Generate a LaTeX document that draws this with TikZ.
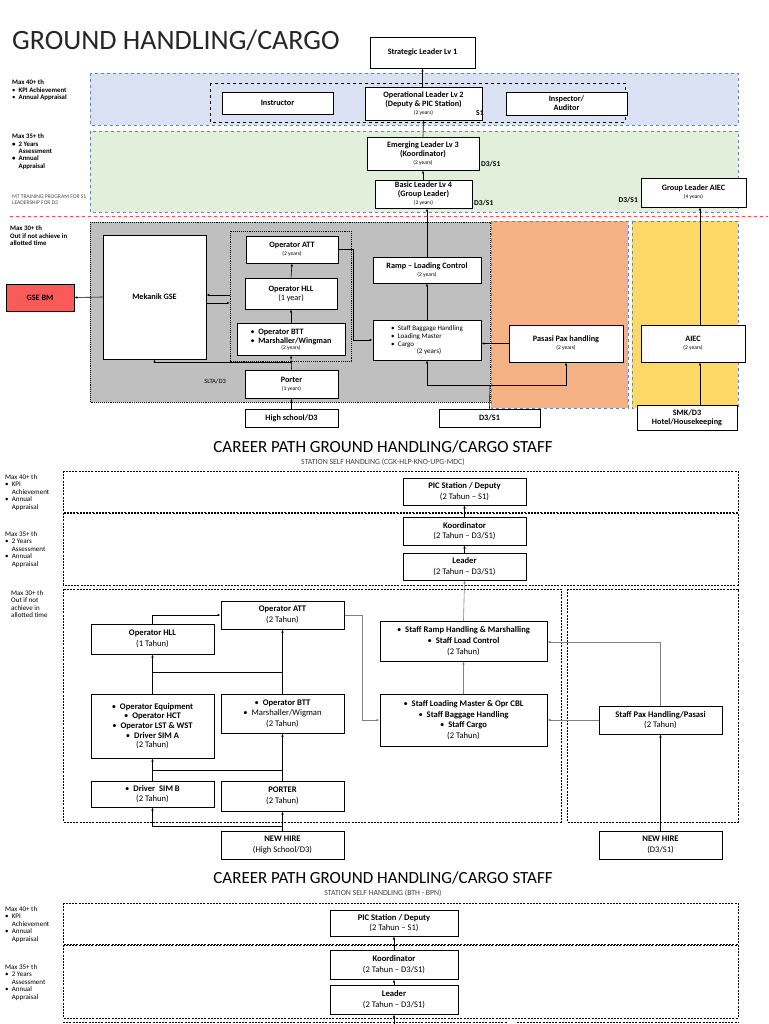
\documentclass[tikz,border=0pt]{standalone}
\usepackage{fontspec}
\setmainfont{Carlito}
\usetikzlibrary{arrows.meta}
\definecolor{bluef}{RGB}{218,225,243}
\definecolor{greenf}{RGB}{226,239,218}
\definecolor{grayf}{RGB}{191,191,191}
\definecolor{orangef}{RGB}{244,177,131}
\definecolor{yellowf}{RGB}{255,217,102}
\definecolor{redf}{RGB}{250,90,90}
\definecolor{dblue}{RGB}{100,130,200}
\begin{document}
\begin{tikzpicture}[x=1pt,y=-1pt,
 box/.style={draw,fill=white,line width=0.9pt,inner sep=1pt,align=center,font=\fontsize{8.2}{9}\selectfont},
 bx/.style={draw,fill=white,line width=1pt,inner sep=1pt,align=center,font=\fontsize{8.6}{10.6}\selectfont},
 lbl/.style={anchor=north west,align=left,inner sep=0,font=\fontsize{6.8}{9.3}\selectfont},
 lbl2/.style={anchor=north west,align=left,inner sep=0,font=\fontsize{7}{9.6}\selectfont},
 ar/.style={-{Latex[length=3pt,width=2.5pt]},line width=0.6pt},
 arg/.style={-{Latex[length=3pt,width=2.5pt]},line width=0.6pt,draw=gray},
 band/.style={draw=dblue,dashed,line width=0.8pt},
 dbox/.style={draw,dashed,line width=0.6pt,dash pattern=on 2pt off 1.2pt},
 ttl/.style={font=\fontsize{17}{19}\selectfont},
 sub/.style={font=\fontsize{7.8}{9}\selectfont,text=black!75},
 sl/.style={anchor=west,inner sep=0,font=\fontsize{7.5}{8}\selectfont\bfseries}]
\useasboundingbox (0,0) rectangle (768,1024);
% ---------- Section 1
\node[anchor=west,inner sep=0,font=\fontsize{28}{30}\selectfont,text=black!85] (t1) at (12,40) {GROUND HANDLING/CARGO};
\fill[bluef] (90,73) rectangle (738,125); \draw[band] (90,73) rectangle (738,125);
\fill[greenf] (90,131) rectangle (738,212); \draw[band] (90,131) rectangle (738,212);
\draw[dashed,line width=0.9pt] (210,83) rectangle (625,122);
\draw[red!70,dashed,line width=1pt] (10,217) -- (768,217);
\fill[grayf] (90,222) rectangle (490,402); \draw[densely dotted,line width=0.9pt] (90,222) rectangle (490,402);
\fill[orangef] (491,221) rectangle (628,408); \draw[band] (491,221) rectangle (628,408);
\fill[yellowf] (632,221) rectangle (738,408); \draw[band] (632,221) rectangle (738,408);
\draw[densely dotted,line width=0.9pt] (230,231) rectangle (351,361);

\node[lbl] (l1) at (12,80) {\textbf{Max 40+ th}\\[-2pt]\textbullet\ \ \textbf{KPI Achievement}\\[-2pt]\textbullet\ \ \textbf{Annual Appraisal}};
\node[lbl,font=\fontsize{6.8}{9.3}\selectfont\bfseries] (l2) at (12,134) {Max 35+ th\\[-2pt]\textbullet\ \ 2 Years\\[-2pt]\phantom{\textbullet\ \ }Assessment\\[-2pt]\textbullet\ \ Annual\\[-2pt]\phantom{\textbullet\ \ }Appraisal};
\node[lbl,font=\fontsize{5.6}{8.5}\selectfont,text=black!70] (l3) at (12,195) {MT TRAINING PROGRAM FOR S1\\[-3pt]LEADERSHIP FOR D3};
\node[lbl,font=\fontsize{6.8}{9.5}\selectfont\bfseries] (l4) at (10,226) {Max 30+ th\\[-2pt]Out if not achieve in\\[-2pt]allotted time};

\node[box,minimum width=105,minimum height=31] (slv1) at (422.5,52.5) {\textbf{Strategic Leader Lv 1}};
\node[box,minimum width=111,minimum height=22] (instr) at (277.5,103) {\textbf{Instructor}};
\node[box,minimum width=117,minimum height=33] (olv2) at (423.5,103.5) {\textbf{Operational Leader Lv 2}\\\textbf{(Deputy \& PIC Station)}\\[-1pt]{\fontsize{5.5}{6}\selectfont(2 years)}};
\node[sl] (s1) at (476,113) {S1};
\node[box,minimum width=121,minimum height=23] (insp) at (566.5,103.5) {\textbf{Inspector/}\\\textbf{Auditor}};
\node[box,minimum width=112,minimum height=33] (elv3) at (423,153.5) {\textbf{Emerging Leader Lv 3}\\\textbf{(Koordinator)}\\[-1pt]{\fontsize{5.5}{6}\selectfont(2 years)}};
\node[sl] (d1) at (481,164) {D3/S1};
\node[box,minimum width=97,minimum height=28] (blv4) at (423.5,194) {\textbf{Basic Leader Lv 4}\\\textbf{(Group Leader)}\\[-1pt]{\fontsize{5.5}{6}\selectfont(2 years)}};
\node[sl] (d2) at (474,203) {D3/S1};
\node[box,minimum width=105,minimum height=29] (gla) at (693.5,192.5) {\textbf{Group Leader AIEC}\\[-1pt]{\fontsize{5.5}{6}\selectfont(4 years)}};
\node[sl,anchor=east] (d3) at (638,200) {D3/S1};

\node[box,minimum width=103,minimum height=124] (mek) at (154.5,297) {\textbf{Mekanik GSE}};
\node[box,fill=redf,minimum width=68,minimum height=27] (gse) at (40,297.5) {\textbf{GSE BM}};
\node[box,minimum width=92,minimum height=27] (att) at (292,249.5) {\textbf{Operator ATT}\\[-1pt]{\fontsize{5.5}{6}\selectfont(2 years)}};
\node[box,minimum width=92,minimum height=31] (hll) at (291,293.5) {\textbf{Operator HLL}\\(1 year)};
\node[box,minimum width=108,minimum height=32] (btt) at (291,339) {\begin{tabular}{@{}l@{}}\textbullet\ \ \textbf{Operator BTT}\\\textbullet\ \ \textbf{Marshaller/Wingman}\end{tabular}\\[-2pt]{\fontsize{5.5}{6}\selectfont(2 years)}};
\node[box,minimum width=93,minimum height=28] (por) at (291.5,384) {\textbf{Porter}\\[-1pt]{\fontsize{5.5}{6}\selectfont(1 years)}};
\node[anchor=east,inner sep=0,font=\fontsize{6.5}{7}\selectfont] (slta) at (226,381) {SLTA/D3};
\node[box,minimum width=93,minimum height=18] (hs) at (291.5,418) {\textbf{High school/D3}};
\node[box,minimum width=108,minimum height=26] (ramp) at (427,270) {\textbf{Ramp -- Loading Control}\\[-1pt]{\fontsize{5.5}{6}\selectfont(2 years)}};
\node[box,minimum width=108,minimum height=40,font=\fontsize{7}{8}\selectfont] (sbh) at (427,340) {\begin{tabular}{@{}l@{}}\textbullet\ \ Staff Baggage Handling\\\textbullet\ \ Loading Master\\\textbullet\ \ Cargo\end{tabular}\\[-2pt]\hspace*{4pt}(2 years)};
\node[box,minimum width=114,minimum height=37] (pax) at (566,343.5) {\textbf{Pasasi Pax handling}\\[-1pt]{\fontsize{5.5}{6}\selectfont(2 years)}};
\node[box,minimum width=104,minimum height=37] (aiec) at (693,343.5) {\textbf{AIEC}\\[-1pt]{\fontsize{5.5}{6}\selectfont(2 years)}};
\node[box,minimum width=101,minimum height=18] (d3s1) at (489.5,418) {\textbf{D3/S1}};
\node[box,minimum width=100,minimum height=25] (smk) at (687,417.5) {\textbf{SMK/D3}\\\textbf{Hotel/Housekeeping}};

\draw[ar] (olv2.north -| slv1.south) -- (slv1.south);
\draw[ar] (elv3.north) -- (olv2.south);
\draw[ar] (blv4.north -| elv3.south) -- (elv3.south);
\draw[ar] (ramp.north) -- (blv4.south -| ramp.north);
\draw[ar] (sbh.north) -- (ramp.south);
\draw[ar] (aiec.north -| 700,0) -- (gla.south -| 700,0);
\draw[ar] (smk.north -| 700,0) -- (aiec.south -| 700,0);
\draw[ar] (hs.north) -- (por.south);
\draw[ar] (por.north) -- (btt.south);
\draw[ar] (por.north) ++(0,-7) -| (mek.south);
\draw[ar] (btt.north) -- (hll.south);
\draw[ar] (hll.north) -- (att.south);
\draw[ar] (att.east) -- ++(15,0) |- (sbh.west);
\draw[ar] (230,295) -- (mek.east |- 0,295);
\draw[ar] (mek.east |- 0,303) -- (230,303);
\draw[ar] (mek.west) -- (gse.east);
\draw[ar] (pax.west) -- (sbh.east |- pax.west);
\draw[line width=0.6pt] (d3s1.north) -- (490,385);
\draw[ar] (490,385) -| (sbh.south);
\draw[ar] (490,385) -| (pax.south);

% ---------- Section 2
\node[ttl] (t2) at (383,447) {CAREER PATH GROUND HANDLING/CARGO STAFF};
\node[sub] (st2) at (383,462) {STATION SELF HANDLING (CGK-HLP-KNO-UPG-MDC)};
\draw[dbox] (63,471) rectangle (738,512);
\draw[dbox] (63,513) rectangle (738,585);
\draw[dbox] (63,589) rectangle (561,822);
\draw[dbox] (567,589) rectangle (738,822);
\node[lbl2] (m1) at (5,474) {Max 40+ th\\[-2pt]\textbullet\ \ KPI\\[-2pt]\phantom{\textbullet\ \ }Achievement\\[-2pt]\textbullet\ \ Annual\\[-2pt]\phantom{\textbullet\ \ }Appraisal};
\node[lbl2] (m2) at (5,531) {Max 35+ th\\[-2pt]\textbullet\ \ 2 Years\\[-2pt]\phantom{\textbullet\ \ }Assessment\\[-2pt]\textbullet\ \ Annual\\[-2pt]\phantom{\textbullet\ \ }Appraisal};
\node[lbl2] (m3) at (11,590) {Max 30+ th\\[-2pt]Out if not\\[-2pt]achieve in\\[-2pt]allotted time};

\node[bx,minimum width=123,minimum height=27] (pic) at (464.5,491.5) {\textbf{PIC Station / Deputy}\\(2 Tahun -- S1)};
\node[bx,minimum width=123,minimum height=28] (koo) at (464.5,531) {\textbf{Koordinator}\\(2 Tahun -- D3/S1)};
\node[bx,minimum width=123,minimum height=27] (lea) at (464.5,566.5) {\textbf{Leader}\\(2 Tahun -- D3/S1)};
\node[bx,minimum width=123,minimum height=28] (att2) at (282.5,615) {\textbf{Operator ATT}\\(2 Tahun)};
\node[bx,minimum width=123,minimum height=30] (hll2) at (152.5,639) {\textbf{Operator HLL}\\(1 Tahun)};
\node[bx,minimum width=167,minimum height=40] (ramp2) at (463.5,641) {\textbullet\ \ \textbf{Staff Ramp Handling \& Marshalling}\\\textbullet\ \ \textbf{Staff Load Control}\\(2 Tahun)};
\node[bx,minimum width=123,minimum height=64,font=\fontsize{8.6}{9.6}\selectfont] (equ) at (152.5,726) {\textbullet\ \ \textbf{Operator Equipment}\\\textbullet\ \ \textbf{Operator HCT}\\\textbullet\ \ \textbf{Operator LST \& WST}\\\textbullet\ \ \textbf{Driver SIM A}\\(2 Tahun)};
\node[bx,minimum width=123,minimum height=39] (btt2) at (282.5,713.5) {\textbullet\ \ \textbf{Operator BTT}\\\textbullet\ \ Marshaller/Wigman\\(2 Tahun)};
\node[bx,minimum width=167,minimum height=52] (slm) at (463.5,720) {\textbullet\ \ \textbf{Staff Loading Master \& Opr CBL}\\\textbullet\ \ \textbf{Staff Baggage Handling}\\\textbullet\ \ \textbf{Staff Cargo}\\(2 Tahun)};
\node[bx,minimum width=123,minimum height=28] (spx) at (660.5,720) {\textbf{Staff Pax Handling/Pasasi}\\(2 Tahun)};
\node[bx,minimum width=123,minimum height=26] (sim) at (152.5,794) {\textbullet\ \ \textbf{Driver\ \ SIM B}\\(2 Tahun)};
\node[bx,minimum width=123,minimum height=30] (por2) at (282.5,796) {\textbf{PORTER}\\(2 Tahun)};
\node[bx,minimum width=123,minimum height=28] (nh1) at (282.5,845) {\textbf{NEW HIRE}\\(High School/D3)};
\node[bx,minimum width=123,minimum height=28] (nh2) at (660.5,845) {\textbf{NEW HIRE}\\(D3/S1)};

\draw[ar] (nh1.north) -- (por2.south);
\draw[ar] (282.5,826) -| (sim.south);
\draw[ar] (sim.north) -- (equ.south);
\draw[ar] (por2.north) -- (btt2.south);
\draw[line width=0.6pt] (282.5,770) -- (152.5,770);
\draw[ar] (equ.north) -- (hll2.south);
\draw[line width=0.6pt] (152.5,672) -- (282.5,672);
\draw[ar] (btt2.north) -- (att2.south);
\draw[ar] (hll2.north) |- (att2.west);
\draw[arg] (att2.east) -- (362,615) |- (slm.west);
\draw[arg] (slm.north) -- (ramp2.south);
\draw[arg] (ramp2.north) -- (lea.south);
\draw[ar] (lea.north) -- (koo.south);
\draw[ar] (koo.north) -- (pic.south);
\draw[arg] (spx.west) -- (slm.east);
\draw[arg] (spx.north) |- (ramp2.east |- 0,642);
\draw[ar] (nh2.north) -- (spx.south);

% ---------- Section 3
\node[ttl] (t3) at (383,878) {CAREER PATH GROUND HANDLING/CARGO STAFF};
\node[sub] (st3) at (383,893) {STATION SELF HANDLING (BTH - BPN)};
\draw[dbox] (63,903) rectangle (738,944);
\draw[dbox] (63,945) rectangle (738,1018);
\draw[dbox] (63,1022) -- (507,1022);
\draw[dbox] (517,1022) -- (738,1022);
\node[lbl2] (n1) at (5,906) {Max 40+ th\\[-2pt]\textbullet\ \ KPI\\[-2pt]\phantom{\textbullet\ \ }Achievement\\[-2pt]\textbullet\ \ Annual\\[-2pt]\phantom{\textbullet\ \ }Appraisal};
\node[lbl2] (n2) at (5,964) {Max 35+ th\\[-2pt]\textbullet\ \ 2 Years\\[-2pt]\phantom{\textbullet\ \ }Assessment\\[-2pt]\textbullet\ \ Annual\\[-2pt]\phantom{\textbullet\ \ }Appraisal};
\node[bx,minimum width=128,minimum height=26] (pic3) at (394,923) {\textbf{PIC Station / Deputy}\\(2 Tahun -- S1)};
\node[bx,minimum width=128,minimum height=29] (koo3) at (394,964.5) {\textbf{Koordinator}\\(2 Tahun -- D3/S1)};
\node[bx,minimum width=128,minimum height=29] (lea3) at (394,999.5) {\textbf{Leader}\\(2 Tahun -- D3/S1)};
\coordinate (bot3) at (394,1024);
\draw[ar] (bot3) -- (lea3.south);
\draw[ar] (lea3.north) -- (koo3.south);
\draw[ar] (koo3.north) -- (pic3.south);
\end{tikzpicture}
\end{document}
